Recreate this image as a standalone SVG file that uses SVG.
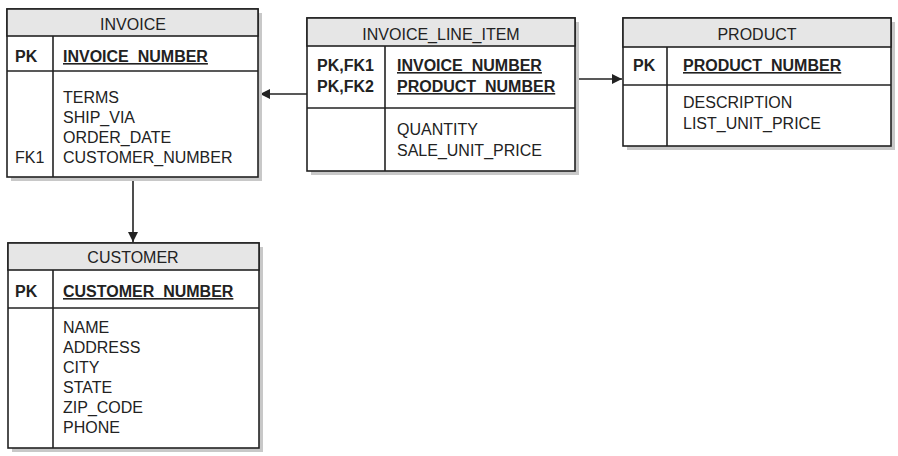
<svg xmlns="http://www.w3.org/2000/svg" width="898" height="456" viewBox="0 0 898 456">
<style>
.sh{fill:#c8c8c8}
.bx{fill:#fff;stroke:#222;stroke-width:1.6}
.hd{fill:#e6e6e6;stroke:#222;stroke-width:1.6}
.ln{stroke:#222;stroke-width:1.6;fill:none}
text{font-family:"Liberation Sans",Arial,sans-serif;font-size:16px;fill:#222}
.t{text-anchor:middle}
.b{font-weight:bold;text-decoration:underline}
.k{font-weight:bold}
</style>
<defs><marker id="a" markerWidth="10" markerHeight="10" refX="10" refY="5" orient="auto" markerUnits="userSpaceOnUse"><path d="M0,0 L10,5 L0,10 z" fill="#222"/></marker></defs>
<g id="connectors">
<line class="ln" x1="307" y1="94" x2="260" y2="94" marker-end="url(#a)"/>
<line class="ln" x1="575" y1="79" x2="622" y2="79" marker-end="url(#a)"/>
<line class="ln" x1="133" y1="177" x2="133" y2="242" marker-end="url(#a)"/>
</g>
<g id="invoice">
<rect class="sh" x="11" y="13" width="251" height="168"/>
<rect class="bx" x="7" y="9" width="251" height="168"/>
<rect class="hd" x="7" y="9" width="251" height="27"/>
<line class="ln" x1="7" y1="71" x2="258" y2="71"/>
<line class="ln" x1="53" y1="36" x2="53" y2="177"/>
<text class="t" x="133" y="30">INVOICE</text>
<text class="k" x="15" y="62">PK</text>
<text class="b" x="63" y="62">INVOICE_NUMBER</text>
<text x="63" y="103">TERMS</text>
<text x="63" y="123">SHIP_VIA</text>
<text x="63" y="143">ORDER_DATE</text>
<text x="15" y="163">FK1</text>
<text x="63" y="163">CUSTOMER_NUMBER</text>
</g>
<g id="invoice_line_item">
<rect class="sh" x="311" y="22" width="268" height="153"/>
<rect class="bx" x="307" y="18" width="268" height="153"/>
<rect class="hd" x="307" y="18" width="268" height="28"/>
<line class="ln" x1="307" y1="108" x2="575" y2="108"/>
<line class="ln" x1="385" y1="46" x2="385" y2="171"/>
<text class="t" x="441" y="40">INVOICE_LINE_ITEM</text>
<text class="k" x="317" y="71">PK,FK1</text>
<text class="k" x="317" y="92">PK,FK2</text>
<text class="b" x="397" y="71">INVOICE_NUMBER</text>
<text class="b" x="397" y="92">PRODUCT_NUMBER</text>
<text x="397" y="135">QUANTITY</text>
<text x="397" y="156">SALE_UNIT_PRICE</text>
</g>
<g id="product">
<rect class="sh" x="627" y="22" width="268" height="128"/>
<rect class="bx" x="623" y="18" width="268" height="128"/>
<rect class="hd" x="623" y="18" width="268" height="29"/>
<line class="ln" x1="623" y1="85" x2="891" y2="85"/>
<line class="ln" x1="667" y1="47" x2="667" y2="146"/>
<text class="t" x="757" y="40">PRODUCT</text>
<text class="k" x="633" y="71">PK</text>
<text class="b" x="683" y="71">PRODUCT_NUMBER</text>
<text x="683" y="108">DESCRIPTION</text>
<text x="683" y="129">LIST_UNIT_PRICE</text>
</g>
<g id="customer">
<rect class="sh" x="12" y="247" width="251" height="205"/>
<rect class="bx" x="8" y="243" width="251" height="205"/>
<rect class="hd" x="8" y="243" width="251" height="27"/>
<line class="ln" x1="8" y1="308" x2="259" y2="308"/>
<line class="ln" x1="53" y1="270" x2="53" y2="448"/>
<text class="t" x="133" y="263">CUSTOMER</text>
<text class="k" x="15" y="297">PK</text>
<text class="b" x="63" y="297">CUSTOMER_NUMBER</text>
<text x="63" y="333">NAME</text>
<text x="63" y="353">ADDRESS</text>
<text x="63" y="373">CITY</text>
<text x="63" y="393">STATE</text>
<text x="63" y="413">ZIP_CODE</text>
<text x="63" y="433">PHONE</text>
</g>
</svg>
